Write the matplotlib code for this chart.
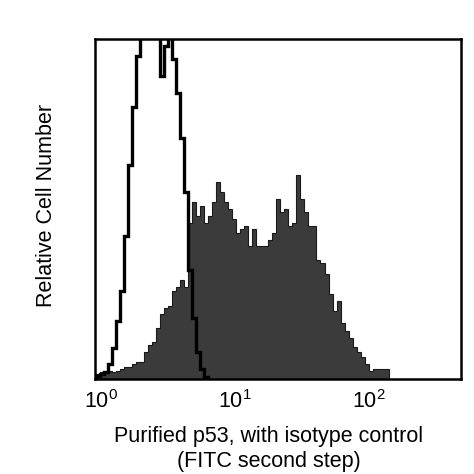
import matplotlib
matplotlib.use("Agg")
import matplotlib.pyplot as plt
import numpy as np

plt.rcParams['font.family'] = ['Liberation Sans', 'DejaVu Sans']
plt.rcParams['mathtext.fontset'] = 'custom'
plt.rcParams['mathtext.rm'] = 'Liberation Sans'
plt.rcParams['mathtext.it'] = 'Liberation Sans'

# channels in log10 units, 0.03 decade wide
log_start = -0.04
log_step = 0.03

# isotype control (open outline), relative counts, top of plot = 100
control = [1, 1.5, 2, 4.5, 9, 17, 26, 42, 63, 80, 95, 115, 125, 130, 120,
           104, 89, 98, 101, 94, 84, 71, 55, 32, 18, 8, 3, 0.5]

# purified p53 (filled)
p53 = [1.5, 2, 2, 2.5, 2, 2.5, 3, 3.5, 3.5, 4.5, 5, 5, 8, 10, 11, 15, 19, 21,
       21.5, 26, 27, 29, 27, 46, 52, 48, 51, 46, 48, 52, 58, 55, 52, 50, 47,
       43, 44, 45, 39, 44, 39, 39, 39, 41, 43, 53, 49, 50, 45, 46, 60, 53, 49,
       45, 45, 35, 34, 31, 25, 20, 23, 16.5, 14, 12, 9.5, 8, 6.5, 4.5, 2.5, 3,
       3, 3, 3]

tick_vals = [1, 10, 100]
tick_labels = ['$10^{0}$', '$10^{1}$', '$10^{2}$']


def edges(n):
    return 10 ** (log_start + log_step * np.arange(n + 1))


fig = plt.figure(figsize=(4.74, 4.74), dpi=100)
ax = fig.add_axes([95 / 474, 1 - 379 / 474, 366 / 474, 340 / 474])

e = edges(len(p53))
ax.stairs(p53, e, fill=True, color='#3b3b3b', zorder=2)
ax.stairs(p53, e, color='#1a1a1a', linewidth=0.8, zorder=2)

e2 = edges(len(control))
ax.stairs(control, e2, color='black', linewidth=2.4, zorder=3)

ax.set_xscale('log')
ax.set_xlim(10 ** -0.045, 10 ** 2.69)
ax.set_ylim(0, 100)
ax.set_xticks(tick_vals)
ax.set_xticklabels(tick_labels, fontsize=15.5)
ax.minorticks_off()
ax.tick_params(axis='x', length=0, pad=8)
ax.set_yticks([])
for s in ax.spines.values():
    s.set_linewidth(1.8)

fig.text(47 / 474, 1 - 205 / 474, 'Relative Cell Number', rotation=90,
         ha='center', va='center', fontsize=15.5)
fig.text(269 / 474, 1 - 449 / 474,
         'Purified p53, with isotype control\n(FITC second step)',
         ha='center', va='center', fontsize=15.5, linespacing=1.2)

fig.savefig('out.png', dpi=100)
